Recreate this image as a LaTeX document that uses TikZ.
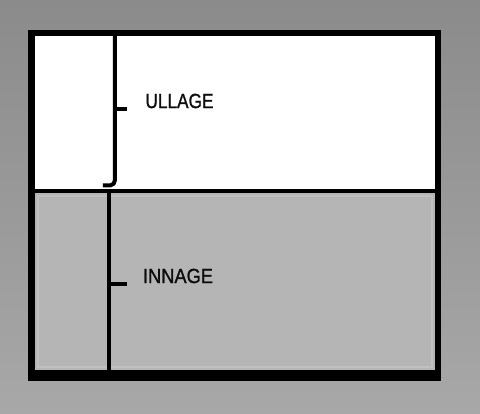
\documentclass[tikz,border=0pt]{standalone}
\usepackage{fontspec}
\setmainfont{Liberation Sans}
\newfontfamily\lblfont[AutoFakeBold=1.2]{Liberation Sans}
\definecolor{bgtop}{RGB}{139,139,139}
\definecolor{bgbot}{RGB}{168,168,168}
\definecolor{innagefill}{RGB}{181,181,181}
\definecolor{innageedge}{RGB}{192,192,192}
\begin{document}
\begin{tikzpicture}[x=0.75pt,y=-0.75pt,
  brace/.style={line width=3pt,line cap=butt,line join=round},
  label/.style={inner sep=0pt,font=\lblfont\bfseries\fontsize{15.4pt}{16pt}\selectfont,text=black!95}]
\useasboundingbox (0,0) rectangle (480,414);
\shade[top color=bgtop,bottom color=bgbot] (0,0) rectangle (480,414);
% tank outline
\fill[black] (28,30) rectangle (441,381);
\fill[white] (35,36) rectangle (435,189);
\fill[innagefill] (35,193) rectangle (435,370);
\draw[innageedge,line width=0.9pt] (38,196) rectangle (432,367);
% ullage brace
\draw[brace] (115,36) -- (115,180) to[out=-90,in=0] (110,185.5) -- (103,185.5);
\draw[brace] (115,109.5) -- (127,109.5);
% innage brace
\draw[brace] (109,193) -- (109,370);
\draw[brace] (109,284.5) -- (127,284.5);
% labels
\node[label,xscale=0.84] (ullage) at (179.5,101) {ULLAGE};
\node[label,xscale=0.89] (innage) at (178,276) {INNAGE};
\end{tikzpicture}
\end{document}
